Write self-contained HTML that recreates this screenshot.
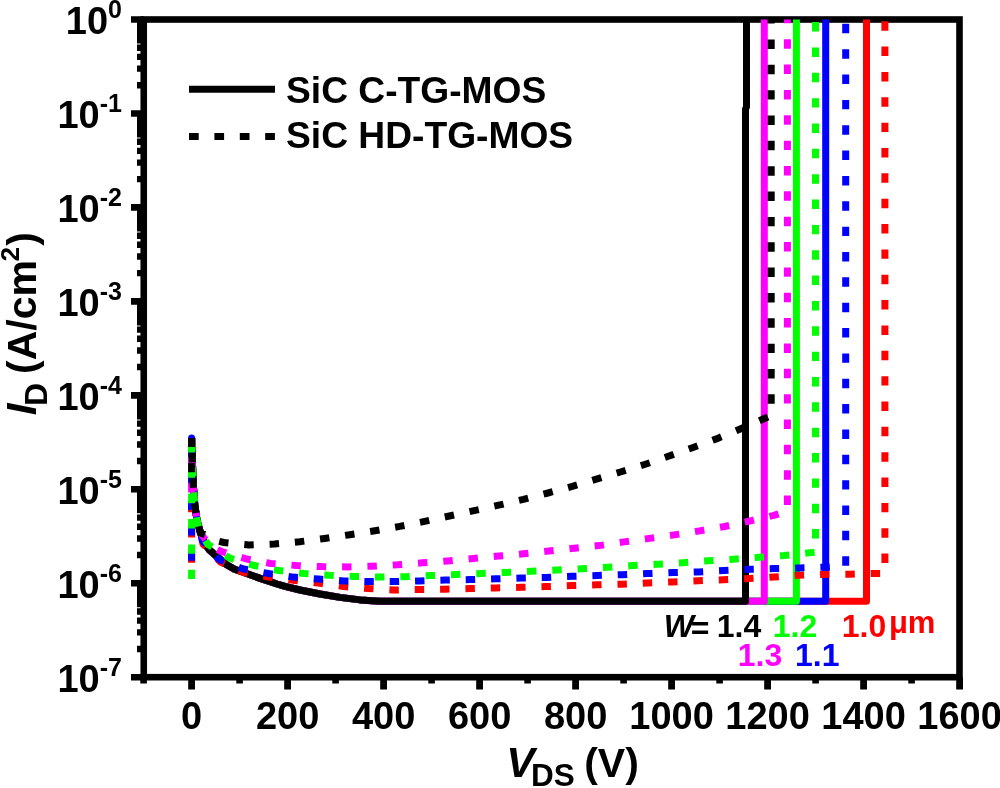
<!DOCTYPE html><html><head><meta charset="utf-8"><style>html,body{margin:0;padding:0;background:#fff;}svg{display:block;}text{font-family:"Liberation Sans", sans-serif;font-weight:bold;}</style></head><body>
<svg width="1000" height="788" viewBox="0 0 1000 788">
<rect width="1000" height="788" fill="#fff"/>
<path d="M131 19.50H143.75 M131 113.46H143.75 M131 207.42H143.75 M131 301.38H143.75 M131 395.34H143.75 M131 489.30H143.75 M131 583.26H143.75 M131 677.22H143.75" stroke="#000" stroke-width="6.6" fill="none"/>
<path d="M137 85.18H143.75 M137 68.63H143.75 M137 56.89H143.75 M137 47.78H143.75 M137 40.34H143.75 M137 34.05H143.75 M137 28.61H143.75 M137 23.80H143.75 M137 179.14H143.75 M137 162.59H143.75 M137 150.85H143.75 M137 141.74H143.75 M137 134.30H143.75 M137 128.01H143.75 M137 122.57H143.75 M137 117.76H143.75 M137 273.10H143.75 M137 256.55H143.75 M137 244.81H143.75 M137 235.70H143.75 M137 228.26H143.75 M137 221.97H143.75 M137 216.53H143.75 M137 211.72H143.75 M137 367.06H143.75 M137 350.51H143.75 M137 338.77H143.75 M137 329.66H143.75 M137 322.22H143.75 M137 315.93H143.75 M137 310.49H143.75 M137 305.68H143.75 M137 461.02H143.75 M137 444.47H143.75 M137 432.73H143.75 M137 423.62H143.75 M137 416.18H143.75 M137 409.89H143.75 M137 404.45H143.75 M137 399.64H143.75 M137 554.98H143.75 M137 538.43H143.75 M137 526.69H143.75 M137 517.58H143.75 M137 510.14H143.75 M137 503.85H143.75 M137 498.41H143.75 M137 493.60H143.75 M137 648.94H143.75 M137 632.39H143.75 M137 620.65H143.75 M137 611.54H143.75 M137 604.10H143.75 M137 597.81H143.75 M137 592.37H143.75 M137 587.56H143.75" stroke="#000" stroke-width="6.4" fill="none"/>
<path d="M191.60 677.20V689.6 M287.60 677.20V689.6 M383.60 677.20V689.6 M479.60 677.20V689.6 M575.60 677.20V689.6 M671.60 677.20V689.6 M767.60 677.20V689.6 M863.60 677.20V689.6 M959.60 677.20V689.6" stroke="#000" stroke-width="6.8" fill="none"/>
<path d="M143.60 677.20V683.4 M239.60 677.20V683.4 M335.60 677.20V683.4 M431.60 677.20V683.4 M527.60 677.20V683.4 M623.60 677.20V683.4 M719.60 677.20V683.4 M815.60 677.20V683.4 M911.60 677.20V683.4" stroke="#000" stroke-width="6.6" fill="none"/>
<rect x="143.75" y="19.50" width="815.75" height="657.70" fill="none" stroke="#000" stroke-width="6.6"/>
<text x="122" y="33.80" text-anchor="end" font-size="38">10<tspan dy="-15.4" font-size="25">0</tspan></text>
<text x="122" y="127.76" text-anchor="end" font-size="38">10<tspan dy="-15.4" font-size="25">-1</tspan></text>
<text x="122" y="221.72" text-anchor="end" font-size="38">10<tspan dy="-15.4" font-size="25">-2</tspan></text>
<text x="122" y="315.68" text-anchor="end" font-size="38">10<tspan dy="-15.4" font-size="25">-3</tspan></text>
<text x="122" y="409.64" text-anchor="end" font-size="38">10<tspan dy="-15.4" font-size="25">-4</tspan></text>
<text x="122" y="503.60" text-anchor="end" font-size="38">10<tspan dy="-15.4" font-size="25">-5</tspan></text>
<text x="122" y="597.56" text-anchor="end" font-size="38">10<tspan dy="-15.4" font-size="25">-6</tspan></text>
<text x="122" y="691.52" text-anchor="end" font-size="38">10<tspan dy="-15.4" font-size="25">-7</tspan></text>
<text x="191.60" y="728.7" text-anchor="middle" font-size="38">0</text>
<text x="287.60" y="728.7" text-anchor="middle" font-size="38">200</text>
<text x="383.60" y="728.7" text-anchor="middle" font-size="38">400</text>
<text x="479.60" y="728.7" text-anchor="middle" font-size="38">600</text>
<text x="575.60" y="728.7" text-anchor="middle" font-size="38">800</text>
<text x="671.60" y="728.7" text-anchor="middle" font-size="38">1000</text>
<text x="767.60" y="728.7" text-anchor="middle" font-size="38">1200</text>
<text x="863.60" y="728.7" text-anchor="middle" font-size="38">1400</text>
<text x="959.60" y="728.7" text-anchor="middle" font-size="38">1600</text>
<text x="506.2" y="776.7" font-size="42.5" font-style="italic">V</text>
<text x="530.9" y="786.2" font-size="31.5">DS</text>
<text x="584.2" y="776.5" font-size="41">(V)</text>
<g transform="rotate(-90)">
<text x="-415.25" y="36" font-size="42.5" font-style="italic">I</text>
<text x="-406.1" y="46.9" font-size="32">D</text>
<text x="-374" y="35.8" font-size="41">(A/cm</text>
<text x="-261.6" y="19.3" font-size="26.2">2</text>
<text x="-245.84" y="35.8" font-size="41">)</text>
</g>
<path d="M189 89.2H275" stroke="#000" stroke-width="7" fill="none"/>
<path d="M189 136.5H275" stroke="#000" stroke-width="7" fill="none" stroke-dasharray="9.7 15.7"/>
<text x="286" y="103.4" font-size="37.2">SiC C-TG-MOS</text>
<text x="286" y="148.4" font-size="37.2">SiC HD-TG-MOS</text>
<path d="M191.6 438.1 L192.3 460.0 L193.3 485.0 L194.8 505.0 L197.0 520.0 L200.5 533.0 L204.5 543.0 L209.0 549.6 L218.0 557.5 L226.3 564.5 L234.0 569.0 L258.0 577.6 L277.0 584.0 L285.0 586.3 L300.0 590.0 L320.0 594.0 L340.0 597.4 L360.0 599.9 L380.0 601.3 L440.0 601.3 L866.5 601.3 L866.5 19.5" stroke="#ff0000" stroke-width="7" fill="none" stroke-linejoin="round"/>
<path d="M191.6 438.1 L192.3 460.0 L193.3 485.0 L194.8 505.0 L197.0 520.0 L200.5 533.0 L204.5 543.0 L209.0 549.6 L218.0 557.5 L226.3 564.5 L234.0 569.0 L258.0 577.6 L277.0 584.0 L285.0 586.3 L300.0 590.0 L320.0 594.0 L340.0 597.4 L360.0 599.9 L380.0 601.3 L440.0 601.3 L825.7 601.3 L825.7 19.5" stroke="#0000ff" stroke-width="7" fill="none" stroke-linejoin="round"/>
<path d="M191.6 438.1 L192.3 460.0 L193.3 485.0 L194.8 505.0 L197.0 520.0 L200.5 533.0 L204.5 543.0 L209.0 549.6 L218.0 557.5 L226.3 564.5 L234.0 569.0 L258.0 577.6 L277.0 584.0 L285.0 586.3 L300.0 590.0 L320.0 594.0 L340.0 597.4 L360.0 599.9 L380.0 601.3 L440.0 601.3 L796.4 601.3 L796.4 19.5" stroke="#00ff00" stroke-width="7" fill="none" stroke-linejoin="round"/>
<path d="M191.6 438.1 L192.3 460.0 L193.3 485.0 L194.8 505.0 L197.0 520.0 L200.5 533.0 L204.5 543.0 L209.0 549.6 L218.0 557.5 L226.3 564.5 L234.0 569.0 L258.0 577.6 L277.0 584.0 L285.0 586.3 L300.0 590.0 L320.0 594.0 L340.0 597.4 L360.0 599.9 L380.0 601.3 L440.0 601.3 L764.3 601.3 L764.3 19.5" stroke="#ff00ff" stroke-width="7" fill="none" stroke-linejoin="round"/>
<path d="M191.6 438.1 L192.3 460.0 L193.3 485.0 L194.8 505.0 L197.0 520.0 L200.5 533.0 L204.5 543.0 L209.0 549.6 L218.0 557.5 L226.3 564.5 L234.0 569.0 L258.0 577.6 L277.0 584.0 L285.0 586.3 L300.0 590.0 L320.0 594.0 L340.0 597.4 L360.0 599.9 L380.0 601.3 L440.0 601.3 L745.5 601.3 L745.5 109.0 L746.5 107.0 L746.5 19.5" stroke="#000000" stroke-width="7" fill="none" stroke-linejoin="round"/>
<circle cx="191.6" cy="438.1" r="3.5" fill="#0000ff"/>
<path d="M191.6 563.0 L191.6 438.1" stroke="#ff0000" stroke-width="7" fill="none" stroke-dasharray="9.45 15.90" stroke-dashoffset="25.22"/>
<path d="M191.6 438.1 L192.3 460.0 L193.3 485.0 L194.8 505.0 L197.0 520.0 L200.5 533.0 L203.0 544.0 L220.5 562.0 L243.5 572.5 L268.5 577.0 L293.1 580.2 L318.3 583.0 L343.5 586.5 L368.8 588.6 L394.0 590.0 L419.5 589.5 L444.8 589.2 L470.1 588.6 L495.5 587.9 L520.8 587.3 L545.9 586.6 L571.6 585.6 L596.7 584.8 L622.0 584.2 L647.3 582.9 L672.7 581.9 L698.0 580.7 L723.2 579.8 L748.4 578.6 L774.0 577.0 L799.0 575.3 L824.0 574.4 L849.8 574.2 L875.2 573.4 L884.9 573.4" stroke="#ff0000" stroke-width="7" fill="none" stroke-linejoin="round" stroke-dasharray="9.45 15.90" stroke-dashoffset="25.26"/>
<path d="M884.9 19.5 L884.9 573.4" stroke="#ff0000" stroke-width="7" fill="none" stroke-dasharray="9.45 15.90" stroke-dashoffset="23.58"/>
<path d="M191.6 562.0 L191.6 438.1" stroke="#0000ff" stroke-width="7" fill="none" stroke-dasharray="9.45 15.90" stroke-dashoffset="24.13"/>
<path d="M191.6 438.1 L192.3 460.0 L193.3 485.0 L194.8 505.0 L197.0 520.0 L200.5 533.0 L202.5 541.0 L219.0 559.5 L243.5 569.0 L268.5 573.5 L293.4 577.1 L318.6 579.1 L343.8 580.9 L369.0 581.6 L394.5 581.6 L420.0 580.9 L445.1 580.1 L470.4 579.6 L495.7 578.8 L521.1 578.0 L546.1 577.5 L571.6 576.3 L596.9 575.5 L622.0 574.7 L647.6 573.6 L672.9 572.5 L698.2 571.9 L723.6 570.6 L748.8 569.3 L774.0 568.6 L799.5 568.0 L825.8 567.2 L845.7 566.0" stroke="#0000ff" stroke-width="7" fill="none" stroke-linejoin="round" stroke-dasharray="9.45 15.90" stroke-dashoffset="2.27"/>
<path d="M845.7 19.5 L845.7 566.0" stroke="#0000ff" stroke-width="7" fill="none" stroke-dasharray="9.45 15.90" stroke-dashoffset="20.98"/>
<path d="M191.6 579.0 L191.6 438.1" stroke="#00ff00" stroke-width="7" fill="none" stroke-dasharray="9.45 15.90" stroke-dashoffset="0.22"/>
<path d="M191.6 438.1 L192.3 460.0 L193.3 485.0 L194.8 505.0 L197.0 520.0 L200.5 533.0 L208.0 544.5 L229.5 558.0 L254.0 565.5 L278.5 570.5 L303.9 573.5 L329.1 575.3 L354.3 576.4 L379.5 577.1 L404.8 576.7 L430.4 575.6 L455.7 574.5 L480.8 573.5 L505.9 572.4 L531.5 571.3 L556.4 570.0 L582.0 568.8 L607.3 567.2 L632.7 565.6 L658.0 564.3 L683.1 562.7 L708.1 560.8 L733.5 559.2 L758.9 557.3 L784.0 555.5 L809.5 552.8 L815.5 552.3" stroke="#00ff00" stroke-width="7" fill="none" stroke-linejoin="round" stroke-dasharray="9.45 15.90" stroke-dashoffset="22.10"/>
<path d="M815.5 19.5 L815.5 552.3" stroke="#00ff00" stroke-width="7" fill="none" stroke-dasharray="9.45 15.90" stroke-dashoffset="22.77"/>
<path d="M191.6 492.5 L191.6 438.1" stroke="#ff00ff" stroke-width="7" fill="none" stroke-dasharray="9.45 15.90" stroke-dashoffset="25.27"/>
<path d="M191.6 438.1 L192.3 460.0 L193.3 485.0 L194.8 505.0 L197.0 520.0 L200.5 533.0 L210.0 546.0 L221.5 551.5 L246.5 559.0 L271.0 563.5 L296.2 565.5 L321.7 566.6 L346.9 566.9 L372.1 566.2 L397.5 564.8 L422.4 562.8 L448.0 560.9 L473.1 558.5 L498.4 556.1 L523.7 553.7 L548.8 551.1 L574.0 548.3 L599.1 545.6 L624.1 541.9 L649.5 538.4 L674.3 534.9 L699.6 530.9 L724.5 526.5 L749.3 521.1 L773.8 515.4 L787.4 511.0" stroke="#ff00ff" stroke-width="7" fill="none" stroke-linejoin="round" stroke-dasharray="9.45 15.90" stroke-dashoffset="6.85"/>
<path d="M787.4 19.5 L787.4 511.0" stroke="#ff00ff" stroke-width="7" fill="none" stroke-dasharray="9.45 15.90" stroke-dashoffset="5.58"/>
<path d="M191.6 480.0 L191.6 438.1" stroke="#000000" stroke-width="7" fill="none" stroke-dasharray="9.45 15.90" stroke-dashoffset="17.68"/>
<path d="M191.6 438.1 L192.3 460.0 L193.3 485.0 L194.8 505.0 L197.0 520.0 L200.5 533.0 L206.0 535.0 L214.0 540.0 L224.0 542.5 L249.0 545.0 L274.5 544.0 L299.7 541.7 L324.6 538.5 L349.8 534.7 L374.9 530.8 L399.7 526.4 L424.6 521.4 L449.4 516.0 L474.0 510.6 L498.6 505.2 L523.4 499.4 L548.0 493.0 L572.4 486.4 L596.3 479.2 L620.4 472.0 L644.6 464.5 L668.3 456.3 L692.5 447.7 L716.4 438.9 L739.1 429.4 L762.6 419.3 L771.2 415.5" stroke="#000000" stroke-width="7" fill="none" stroke-linejoin="round" stroke-dasharray="9.45 15.90" stroke-dashoffset="10.51"/>
<path d="M771.2 19.5 L771.2 415.5" stroke="#000000" stroke-width="7" fill="none" stroke-dasharray="9.45 15.90" stroke-dashoffset="5.38"/>
<text x="663.7" y="636.7" font-size="32" font-style="italic">W</text>
<text x="690.8" y="639" font-size="32">=</text>
<text x="716.7" y="636.7" font-size="32">1.4</text>
<text x="772.8" y="636.7" font-size="32" fill="#00ff00">1.2</text>
<text x="841.8" y="636.7" font-size="32" fill="#ff0000">1.0</text>
<text x="888.9" y="632.7" font-size="31" fill="#ff0000">μm</text>
<text x="737.8" y="665.9" font-size="32" fill="#ff00ff">1.3</text>
<text x="795.0" y="666.1" font-size="32" fill="#0000ff">1.1</text>
</svg></body></html>
